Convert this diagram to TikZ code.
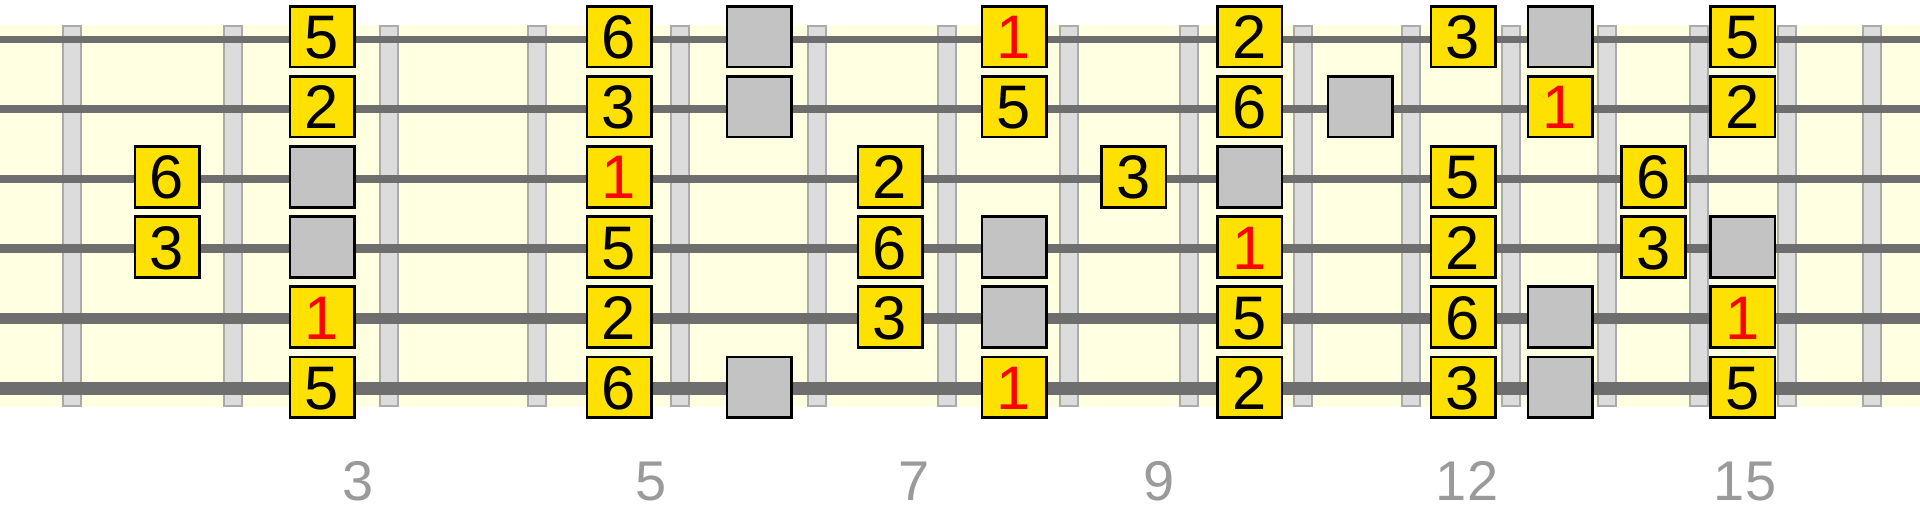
\documentclass[tikz,border=0pt]{standalone}
\usepackage{fontspec}
\setmainfont{Liberation Sans}
\definecolor{bg}{HTML}{FFFFE2}
\definecolor{fretfill}{HTML}{DCDCDC}
\definecolor{fretline}{HTML}{AAAAAA}
\definecolor{strcol}{HTML}{6E6E6E}
\definecolor{noteyel}{HTML}{FFE100}
\definecolor{notegray}{HTML}{C3C3C3}
\definecolor{labgray}{HTML}{9A9A9A}
\tikzset{
  fretbar/.style={draw=fretline, fill=fretfill, line width=2pt},
  note/.style={draw=black, line width=2.7pt, fill=noteyel, minimum width=64.3pt,
    minimum height=60.6pt, inner sep=0pt, text height=44pt, text depth=0pt,
    font=\fontsize{61.5}{61.5}\selectfont},
  root/.style={note, text=red},
  mute/.style={note, fill=notegray},
  fretnum/.style={text=labgray, font=\fontsize{56}{56}\selectfont, anchor=base, inner sep=0pt},
}
\begin{document}
\begin{tikzpicture}[x=1pt,y=-1pt]
\useasboundingbox (0,0) rectangle (1920,509);
\fill[bg] (0,25) rectangle (1920,406.7);
% frets
\foreach \x in {72.3,232.7,388.7,537,680,817.3,946.7,1069.3,1188.7,1302.7,1410.7,1511.3,1607.3,1698.7,1786.7,1872}
  \draw[fretbar] (\x-9,26) rectangle (\x+9,405.7);
% strings
\foreach \y/\w in {39.3/6.7,109.1/7.3,178.9/8,248.7/9.3,318.5/11.3,388.3/13.3}
  \draw[strcol, line width=\w pt] (0,\y) -- (1920,\y);
% column 1
\node[note] (c1s3) at (167,176.9) {6};
\node[note] (c1s4) at (167,247) {3};
% column 2
\node[note] (c2s1) at (322,36.7) {5};
\node[note] (c2s2) at (322,106.8) {2};
\node[mute] (c2s3) at (322,176.9) {};
\node[mute] (c2s4) at (322,247) {};
\node[root] (c2s5) at (322,317.1) {1};
\node[note] (c2s6) at (322,387.2) {5};
% column 3
\node[note] (c3s1) at (619,36.7) {6};
\node[note] (c3s2) at (619,106.8) {3};
\node[root] (c3s3) at (619,176.9) {1};
\node[note] (c3s4) at (619,247) {5};
\node[note] (c3s5) at (619,317.1) {2};
\node[note] (c3s6) at (619,387.2) {6};
% column 4
\node[mute] (c4s1) at (759,36.7) {};
\node[mute] (c4s2) at (759,106.8) {};
\node[mute] (c4s6) at (759,387.2) {};
% column 5
\node[note] (c5s3) at (890,176.9) {2};
\node[note] (c5s4) at (890,247) {6};
\node[note] (c5s5) at (890,317.1) {3};
% column 6
\node[root] (c6s1) at (1014,36.7) {1};
\node[note] (c6s2) at (1014,106.8) {5};
\node[mute] (c6s4) at (1014,247) {};
\node[mute] (c6s5) at (1014,317.1) {};
\node[root] (c6s6) at (1014,387.2) {1};
% column 7
\node[note] (c7s3) at (1133.7,176.9) {3};
% column 8
\node[note] (c8s1) at (1249.7,36.7) {2};
\node[note] (c8s2) at (1249.7,106.8) {6};
\node[mute] (c8s3) at (1249.7,176.9) {};
\node[root] (c8s4) at (1249.7,247) {1};
\node[note] (c8s5) at (1249.7,317.1) {5};
\node[note] (c8s6) at (1249.7,387.2) {2};
% column 9
\node[mute] (c9s2) at (1360,106.8) {};
% column 10
\node[note] (c10s1) at (1463,36.7) {3};
\node[note] (c10s3) at (1463,176.9) {5};
\node[note] (c10s4) at (1463,247) {2};
\node[note] (c10s5) at (1463,317.1) {6};
\node[note] (c10s6) at (1463,387.2) {3};
% column 11
\node[mute] (c11s1) at (1560,36.7) {};
\node[root] (c11s2) at (1560,106.8) {1};
\node[mute] (c11s5) at (1560,317.1) {};
\node[mute] (c11s6) at (1560,387.2) {};
% column 12
\node[note] (c12s3) at (1653.3,176.9) {6};
\node[note] (c12s4) at (1653.3,247) {3};
% column 13
\node[note] (c13s1) at (1742.8,36.7) {5};
\node[note] (c13s2) at (1742.8,106.8) {2};
\node[mute] (c13s4) at (1742.8,247) {};
\node[root] (c13s5) at (1742.8,317.1) {1};
\node[note] (c13s6) at (1742.8,387.2) {5};
% fret numbers
\node[fretnum] (f3) at (358,500) {3};
\node[fretnum] (f5) at (651,500) {5};
\node[fretnum] (f7) at (914,500) {7};
\node[fretnum] (f9) at (1159,500) {9};
\node[fretnum] (f12) at (1467,500) {12};
\node[fretnum] (f15) at (1745,500) {15};
\end{tikzpicture}
\end{document}
